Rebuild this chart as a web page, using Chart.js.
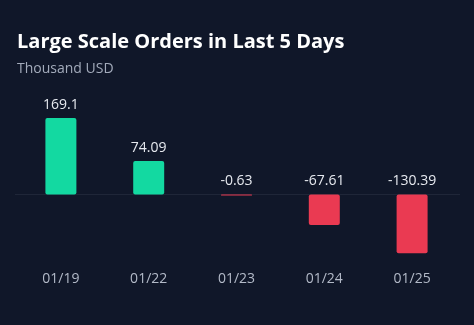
<!DOCTYPE html>
<html>
<head>
<meta charset="utf-8">
<script src="https://cdn.jsdelivr.net/npm/chart.js@4"></script>
<style>
  html, body { margin: 0; padding: 0; background: #101729; }
  #wrap { width: 474px; height: 325px; }
</style>
</head>
<body>
<div id="wrap"><canvas id="Chart"></canvas></div>
<script>
const labels = ['01/19', '01/22', '01/23', '01/24', '01/25'];
const orders = [169.1, 74.09, -0.63, -67.61, -130.39];
const valueText = ['169.1', '74.09', '-0.63', '-67.61', '-130.39'];

const GREEN = '#13d9a1';
const RED = '#ea3a52';

// value labels: above the bar for positives, above the zero line for negatives
const valueLabels = {
  id: 'valueLabels',
  afterDatasetsDraw(chart) {
    const ctx = chart.ctx;
    const meta = chart.getDatasetMeta(0);
    const y0 = chart.scales.y.getPixelForValue(0);
    ctx.save();
    ctx.font = '14px "Open Sans"';
    ctx.fillStyle = '#e6e9ef';
    ctx.textAlign = 'center';
    ctx.textBaseline = 'bottom';
    meta.data.forEach((bar, i) => {
      const top = orders[i] >= 0 ? bar.y : y0;
      ctx.fillText(valueText[i], bar.x, top - 6);
    });
    ctx.restore();
  }
};

// faint zero line
const zeroLine = {
  id: 'zeroLine',
  beforeDatasetsDraw(chart) {
    const ctx = chart.ctx;
    const y0 = Math.round(chart.scales.y.getPixelForValue(0)) + 0.5;
    ctx.save();
    ctx.strokeStyle = '#1f2638';
    ctx.lineWidth = 1;
    ctx.beginPath();
    ctx.moveTo(15, y0);
    ctx.lineTo(460, y0);
    ctx.stroke();
    ctx.restore();
  }
};

new Chart(document.getElementById('Chart'), {
  type: 'bar',
  data: {
    labels: labels,
    datasets: [{
      data: orders,
      backgroundColor: orders.map(v => v >= 0 ? GREEN : RED),
      borderRadius: 2,
      borderSkipped: false,
      barPercentage: 0.353,
      categoryPercentage: 1,
      minBarLength: 1
    }]
  },
  options: {
    responsive: true,
    maintainAspectRatio: false,
    animation: false,
    layout: { padding: { left: 17, right: 18, top: 30, bottom: 30 } },
    plugins: {
      legend: { display: false },
      tooltip: { enabled: false },
      title: {
        display: true,
        text: 'Large Scale Orders in Last 5 Days',
        align: 'start',
        color: '#ffffff',
        font: { family: '"Open Sans"', size: 20, weight: 'bold' },
        padding: { top: 0, bottom: 7 }
      },
      subtitle: {
        display: true,
        text: 'Thousand USD',
        align: 'start',
        color: '#a3abbb',
        font: { family: '"Open Sans"', size: 14 },
        padding: { top: 0, bottom: 10 }
      }
    },
    scales: {
      x: {
        grid: { display: false, drawTicks: false },
        border: { display: false },
        ticks: {
          color: '#b3bac8',
          font: { family: '"Open Sans"', size: 14 },
          padding: 8
        }
      },
      y: {
        display: false,
        min: -150,
        max: 236
      }
    }
  },
  plugins: [zeroLine, valueLabels]
});
</script>
</body>
</html>
